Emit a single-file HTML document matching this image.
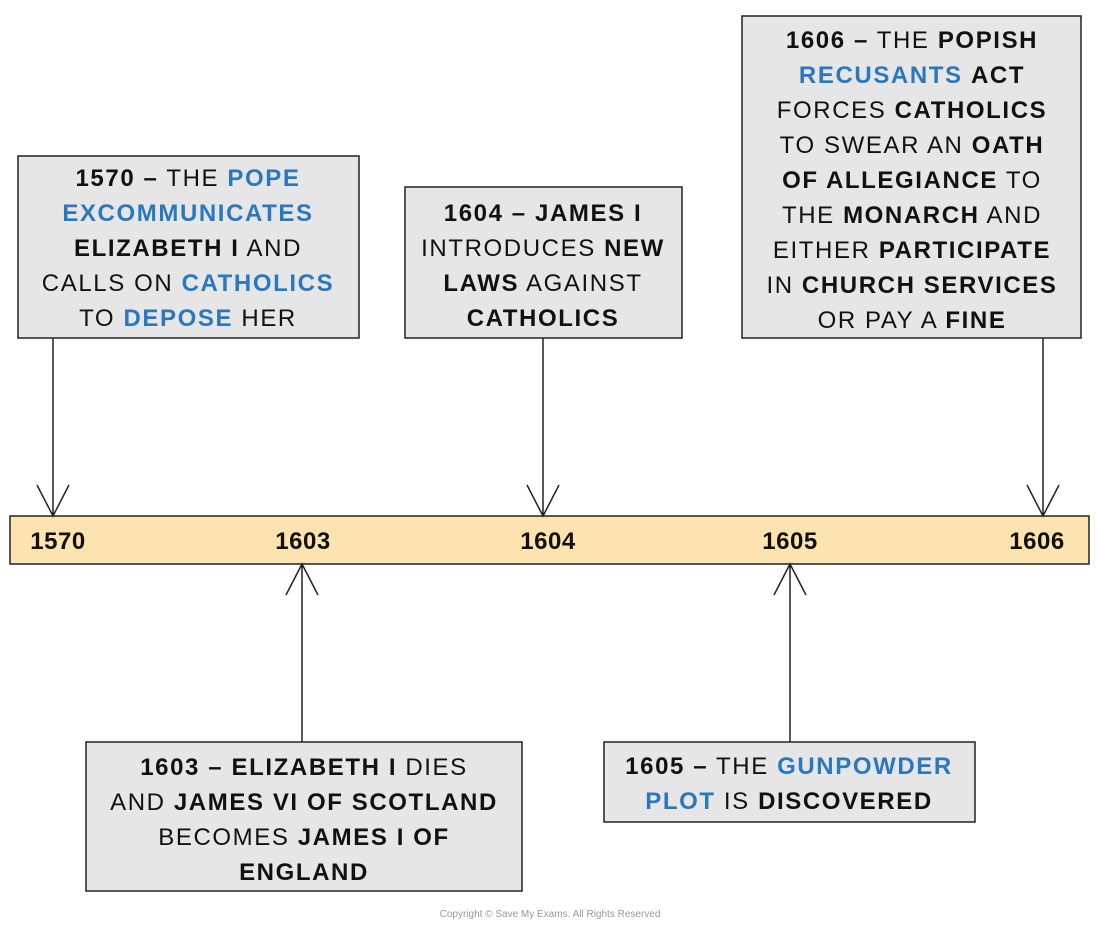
<!DOCTYPE html>
<html><head><meta charset="utf-8"><style>
html,body{margin:0;padding:0;background:#fff;}
svg{display:block;}
text{font-family:"Liberation Sans",sans-serif;font-size:24px;letter-spacing:1.6px;fill:#111;}
.b{font-weight:bold;}
.u{fill:#2a78c0;}
.y{font-weight:bold;font-size:24px;letter-spacing:0.5px;}
</style></head><body>
<svg width="1100" height="927" viewBox="0 0 1100 927">
<g stroke="#222" stroke-width="1.5">
<rect x="10" y="516" width="1079" height="48" fill="#fde3b0"/>
<rect x="18" y="156" width="341" height="182" fill="#e6e6e6"/>
<rect x="405" y="187" width="277" height="151" fill="#e6e6e6"/>
<rect x="742" y="16" width="339" height="322" fill="#e6e6e6"/>
<rect x="86" y="742" width="436" height="149" fill="#e6e6e6"/>
<rect x="604" y="742" width="371" height="80" fill="#e6e6e6"/>
<g fill="none">
<path d="M53 338V516M37 485L53 516L69 485"/>
<path d="M543 338V516M527 485L543 516L559 485"/>
<path d="M1043 338V516M1027 485L1043 516L1059 485"/>
<path d="M302 742V564M286 595L302 564L318 595"/>
<path d="M790 742V564M774 595L790 564L806 595"/>
</g></g>
<g text-anchor="middle">
<text class="y" x="58" y="549">1570</text>
<text class="y" x="303" y="549">1603</text>
<text class="y" x="548" y="549">1604</text>
<text class="y" x="790" y="549">1605</text>
<text class="y" x="1037" y="549">1606</text>

<text x="188" y="186"><tspan class="b">1570 –</tspan> THE <tspan class="b u">POPE</tspan></text>
<text x="188" y="221" class="b u">EXCOMMUNICATES</text>
<text x="188" y="256"><tspan class="b">ELIZABETH I</tspan> AND</text>
<text x="188" y="291">CALLS ON <tspan class="b u">CATHOLICS</tspan></text>
<text x="188" y="326">TO <tspan class="b u">DEPOSE</tspan> HER</text>

<text x="543" y="221" class="b">1604 – JAMES I</text>
<text x="543" y="256">INTRODUCES <tspan class="b">NEW</tspan></text>
<text x="543" y="291"><tspan class="b">LAWS</tspan> AGAINST</text>
<text x="543" y="326" class="b">CATHOLICS</text>

<text x="912" y="48"><tspan class="b">1606 –</tspan> THE <tspan class="b">POPISH</tspan></text>
<text x="912" y="83"><tspan class="b u">RECUSANTS</tspan> <tspan class="b">ACT</tspan></text>
<text x="912" y="118">FORCES <tspan class="b">CATHOLICS</tspan></text>
<text x="912" y="153">TO SWEAR AN <tspan class="b">OATH</tspan></text>
<text x="912" y="188"><tspan class="b">OF ALLEGIANCE</tspan> TO</text>
<text x="912" y="223">THE <tspan class="b">MONARCH</tspan> AND</text>
<text x="912" y="258">EITHER <tspan class="b">PARTICIPATE</tspan></text>
<text x="912" y="293">IN <tspan class="b">CHURCH SERVICES</tspan></text>
<text x="912" y="328">OR PAY A <tspan class="b">FINE</tspan></text>

<text x="304" y="775"><tspan class="b">1603 – ELIZABETH I</tspan> DIES</text>
<text x="304" y="810">AND <tspan class="b">JAMES VI OF SCOTLAND</tspan></text>
<text x="304" y="845">BECOMES <tspan class="b">JAMES I OF</tspan></text>
<text x="304" y="880" class="b">ENGLAND</text>

<text x="789" y="774"><tspan class="b">1605 –</tspan> THE <tspan class="b u">GUNPOWDER</tspan></text>
<text x="789" y="809"><tspan class="b u">PLOT</tspan> IS <tspan class="b">DISCOVERED</tspan></text>

<text x="550" y="917" style="font-size:10px;letter-spacing:0;fill:#999">Copyright © Save My Exams. All Rights Reserved</text>
</g>
</svg>
</body></html>
